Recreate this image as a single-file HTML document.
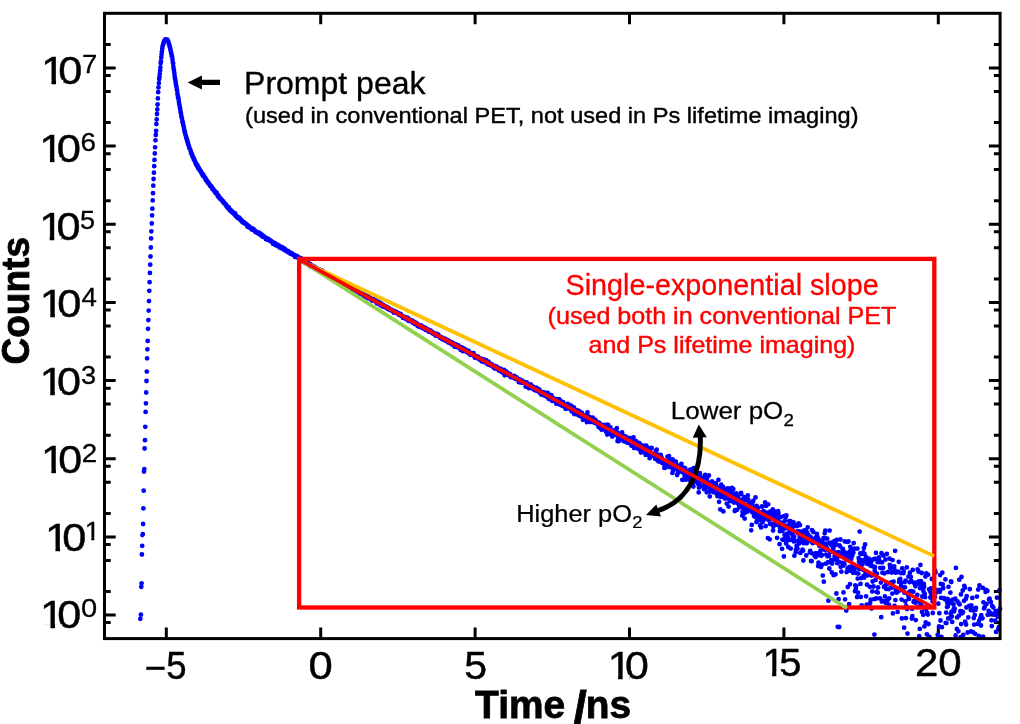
<!DOCTYPE html>
<html><head><meta charset="utf-8"><title>Ps lifetime spectrum</title>
<style>
html,body{margin:0;padding:0;background:#fff;}
svg{display:block;font-family:"Liberation Sans",sans-serif;}
</style></head><body>
<svg width="1020" height="724" viewBox="0 0 1020 724">
<rect width="1020" height="724" fill="#fff"/>
<defs><clipPath id="c"><rect x="103.0" y="11.8" width="899.6" height="628.3"/></clipPath><clipPath id="k0"><rect x="-3" y="-46.32" width="154.4" height="42.21"/><rect x="9.38" y="-4.31" width="4.06" height="5.61"/><rect x="19.90" y="-4.31" width="115.8" height="7.11"/></clipPath><clipPath id="k2"><rect x="-3" y="-46.32" width="154.4" height="42.21"/><rect x="9.38" y="-4.31" width="4.06" height="5.61"/><rect x="19.90" y="-4.31" width="115.8" height="7.11"/></clipPath><clipPath id="k3"><rect x="-3" y="-30.24" width="100.8" height="27.21"/><rect x="6.09" y="-3.23" width="2.73" height="4.53"/></clipPath><clipPath id="k4"><rect x="-3" y="-46.32" width="154.4" height="42.21"/><rect x="9.38" y="-4.31" width="4.06" height="5.61"/><rect x="19.90" y="-4.31" width="115.8" height="7.11"/></clipPath><clipPath id="k6"><rect x="-3" y="-46.32" width="154.4" height="42.21"/><rect x="9.38" y="-4.31" width="4.06" height="5.61"/><rect x="19.90" y="-4.31" width="115.8" height="7.11"/></clipPath><clipPath id="k8"><rect x="-3" y="-46.32" width="154.4" height="42.21"/><rect x="9.38" y="-4.31" width="4.06" height="5.61"/><rect x="19.90" y="-4.31" width="115.8" height="7.11"/></clipPath><clipPath id="k10"><rect x="-3" y="-46.32" width="154.4" height="42.21"/><rect x="9.38" y="-4.31" width="4.06" height="5.61"/><rect x="19.90" y="-4.31" width="115.8" height="7.11"/></clipPath><clipPath id="k12"><rect x="-3" y="-46.32" width="154.4" height="42.21"/><rect x="9.38" y="-4.31" width="4.06" height="5.61"/><rect x="19.90" y="-4.31" width="115.8" height="7.11"/></clipPath><clipPath id="k14"><rect x="-3" y="-46.32" width="154.4" height="42.21"/><rect x="9.38" y="-4.31" width="4.06" height="5.61"/><rect x="19.90" y="-4.31" width="115.8" height="7.11"/></clipPath><clipPath id="k19"><rect x="-3" y="-46.32" width="154.4" height="42.21"/><rect x="9.38" y="-4.31" width="4.06" height="5.61"/><rect x="19.90" y="-4.31" width="115.8" height="7.11"/></clipPath><clipPath id="k20"><rect x="-3" y="-46.32" width="154.4" height="42.21"/><rect x="9.38" y="-4.31" width="4.06" height="5.61"/><rect x="19.95" y="-4.31" width="115.8" height="7.11"/></clipPath></defs>
<path d="M104.5 615.1h11.2M1000.1 615.1h-11.2M104.5 536.9h11.2M1000.1 536.9h-11.2M104.5 458.7h11.2M1000.1 458.7h-11.2M104.5 380.6h11.2M1000.1 380.6h-11.2M104.5 302.4h11.2M1000.1 302.4h-11.2M104.5 224.3h11.2M1000.1 224.3h-11.2M104.5 146.1h11.2M1000.1 146.1h-11.2M104.5 67.9h11.2M1000.1 67.9h-11.2M104.5 622.6h6.2M1000.1 622.6h-6.2M104.5 591.5h6.2M1000.1 591.5h-6.2M104.5 560.4h6.2M1000.1 560.4h-6.2M104.5 544.5h6.2M1000.1 544.5h-6.2M104.5 513.4h6.2M1000.1 513.4h-6.2M104.5 482.3h6.2M1000.1 482.3h-6.2M104.5 466.3h6.2M1000.1 466.3h-6.2M104.5 435.2h6.2M1000.1 435.2h-6.2M104.5 404.1h6.2M1000.1 404.1h-6.2M104.5 388.2h6.2M1000.1 388.2h-6.2M104.5 357.1h6.2M1000.1 357.1h-6.2M104.5 325.9h6.2M1000.1 325.9h-6.2M104.5 310.0h6.2M1000.1 310.0h-6.2M104.5 278.9h6.2M1000.1 278.9h-6.2M104.5 247.8h6.2M1000.1 247.8h-6.2M104.5 231.8h6.2M1000.1 231.8h-6.2M104.5 200.7h6.2M1000.1 200.7h-6.2M104.5 169.6h6.2M1000.1 169.6h-6.2M104.5 153.7h6.2M1000.1 153.7h-6.2M104.5 122.6h6.2M1000.1 122.6h-6.2M104.5 91.5h6.2M1000.1 91.5h-6.2M104.5 75.5h6.2M1000.1 75.5h-6.2M104.5 44.4h6.2M1000.1 44.4h-6.2M166.3 13.3v11M166.3 638.6v-11M320.7 13.3v11M320.7 638.6v-11M475.1 13.3v11M475.1 638.6v-11M629.5 13.3v11M629.5 638.6v-11M783.9 13.3v11M783.9 638.6v-11M938.3 13.3v11M938.3 638.6v-11" stroke="#000" stroke-width="3" fill="none"/>
<path d="M140.3 618.8h0M140.9 614.7h0M141.3 586.8h0M141.6 583.3h0M141.9 554.5h0M142.2 545.8h0M142.5 535.1h0M142.8 534.2h0M143.1 524.0h0M143.4 508.4h0M143.7 490.7h0M144.0 471.5h0M144.3 469.1h0M144.6 448.5h0M145.0 440.2h0M145.3 426.8h0M145.6 411.9h0M145.9 403.3h0M146.2 392.5h0M146.5 381.0h0M146.8 371.6h0M147.1 358.3h0M147.4 349.3h0M147.7 340.9h0M148.0 328.8h0M148.4 320.1h0M148.7 310.6h0M149.0 301.1h0M149.3 290.8h0M149.6 282.2h0M149.9 272.9h0M150.2 264.7h0M150.5 256.5h0M150.8 247.5h0M151.1 238.4h0M151.4 231.3h0M151.8 223.5h0M152.1 215.4h0M152.4 208.7h0M152.7 200.4h0M153.0 193.2h0M153.3 185.7h0M153.6 179.0h0M153.9 172.7h0M154.2 166.2h0M154.5 159.9h0M154.8 153.4h0M155.1 147.3h0M155.5 140.3h0M155.8 135.0h0M156.1 130.8h0M156.4 124.1h0M156.7 119.4h0M157.0 114.0h0M157.3 109.4h0M157.6 104.5h0M157.9 98.4h0M158.2 92.2h0M158.5 87.4h0M158.9 83.1h0M159.2 79.0h0M159.5 76.9h0M159.8 74.1h0M160.1 70.8h0M160.4 67.5h0M160.7 63.1h0M161.0 61.2h0M161.3 57.4h0M161.6 54.2h0M161.9 51.4h0M162.3 48.5h0M162.6 46.2h0M162.9 45.4h0M163.2 44.2h0M163.5 43.1h0M163.8 42.4h0M164.1 41.5h0M164.4 40.8h0M164.7 40.4h0M165.0 40.5h0M165.3 39.4h0M165.6 39.5h0M166.0 40.0h0M166.3 39.6h0M166.6 39.9h0M166.9 39.8h0M167.2 39.6h0M167.5 40.3h0M167.8 40.9h0M168.1 41.2h0M168.4 42.0h0M168.7 43.1h0M169.0 44.4h0M169.4 45.1h0M169.7 46.9h0M170.0 47.5h0M170.3 49.1h0M170.6 50.3h0M170.9 51.8h0M171.2 52.9h0M171.5 54.4h0M171.8 56.2h0M172.1 56.7h0M172.4 59.2h0M172.8 62.3h0M173.1 63.4h0M173.4 66.8h0M173.7 69.1h0M174.0 70.6h0M174.3 73.0h0M174.6 75.7h0M174.9 77.7h0M175.2 79.3h0M175.5 81.2h0M175.8 83.2h0M176.1 85.6h0M176.5 86.8h0M176.8 89.3h0M177.1 90.6h0M177.4 93.4h0M177.7 95.0h0M178.0 97.3h0M178.3 97.6h0M178.6 99.5h0M178.9 102.0h0M179.2 103.9h0M179.5 105.3h0M179.9 107.5h0M180.2 109.2h0M180.5 111.3h0M180.8 112.8h0M181.1 114.6h0M181.4 116.5h0M181.7 117.5h0M182.0 118.5h0M182.3 121.3h0M182.6 122.5h0M182.9 122.5h0M183.3 125.1h0M183.6 126.0h0M183.9 127.8h0M184.2 129.3h0M184.5 131.2h0M184.8 131.6h0M185.1 133.7h0M185.4 134.6h0M185.7 135.4h0M186.0 136.4h0M186.3 137.7h0M186.6 139.0h0M187.0 139.6h0M187.3 141.7h0M187.6 142.0h0M187.9 142.5h0M188.2 144.4h0M188.5 144.9h0M188.8 146.0h0M189.1 146.8h0M189.4 148.2h0M189.7 149.0h0M190.0 149.4h0M190.4 150.5h0M190.7 150.8h0M191.0 153.0h0M191.3 152.8h0M191.6 153.9h0M191.9 154.0h0M192.2 154.8h0M192.5 156.7h0M192.8 157.0h0M193.1 157.3h0M193.4 157.6h0M193.8 159.6h0M194.1 159.1h0M194.4 160.1h0M194.7 160.8h0M195.0 161.7h0M195.3 162.2h0M195.6 162.8h0M195.9 164.2h0M196.2 164.0h0M196.5 164.8h0M196.8 164.6h0M197.1 166.0h0M197.5 165.5h0M197.8 166.5h0M198.1 168.3h0M198.4 167.5h0M198.7 168.4h0M199.0 168.4h0M199.3 168.9h0M199.6 170.3h0M199.9 170.1h0M200.2 170.8h0M200.5 171.2h0M200.9 171.3h0M201.2 172.2h0M201.5 173.3h0M201.8 173.1h0M202.1 174.0h0M202.4 174.8h0M202.7 174.2h0M203.0 175.7h0M203.3 174.9h0M203.6 176.4h0M203.9 176.5h0M204.3 176.7h0M204.6 177.4h0M204.9 177.7h0M205.2 177.8h0M205.5 179.5h0M205.8 180.0h0M206.1 179.4h0M206.4 180.2h0M206.7 180.6h0M207.0 181.2h0M207.3 181.2h0M207.6 182.5h0M208.0 182.7h0M208.3 182.6h0M208.6 183.2h0M208.9 183.4h0M209.2 184.2h0M209.5 185.0h0M209.8 185.4h0M210.1 185.1h0M210.4 186.0h0M210.7 186.0h0M211.0 186.1h0M211.4 186.7h0M211.7 187.8h0M212.0 187.3h0M212.3 188.2h0M212.6 189.2h0M212.9 189.0h0M213.2 189.4h0M213.5 189.7h0M213.8 189.8h0M214.1 190.7h0M214.4 191.3h0M214.8 191.7h0M215.1 191.5h0M215.4 192.1h0M215.7 193.3h0M216.0 192.8h0M216.3 193.6h0M216.6 192.7h0M216.9 193.9h0M217.2 194.3h0M217.5 194.6h0M217.8 196.3h0M218.1 195.8h0M218.5 195.6h0M218.8 196.8h0M219.1 197.1h0M219.4 197.6h0M219.7 198.5h0M220.0 198.1h0M220.3 198.7h0M220.6 198.7h0M220.9 198.9h0M221.2 199.7h0M221.5 200.0h0M221.9 200.1h0M222.2 200.6h0M222.5 201.2h0M222.8 201.7h0M223.1 201.8h0M223.4 201.5h0M223.7 202.8h0M224.0 202.9h0M224.3 203.1h0M224.6 203.6h0M224.9 203.7h0M225.3 204.6h0M225.6 204.7h0M225.9 204.5h0M226.2 205.7h0M226.5 206.2h0M226.8 206.3h0M227.1 206.9h0M227.4 206.4h0M227.7 207.9h0M228.0 207.8h0M228.3 208.6h0M228.6 207.3h0M229.0 208.0h0M229.3 208.9h0M229.6 209.1h0M229.9 210.4h0M230.2 209.8h0M230.5 209.8h0M230.8 210.9h0M231.1 210.9h0M231.4 210.8h0M231.7 211.9h0M232.0 212.3h0M232.4 212.0h0M232.7 212.0h0M233.0 213.1h0M233.3 213.2h0M233.6 213.3h0M233.9 213.3h0M234.2 214.0h0M234.5 214.3h0M234.8 214.6h0M235.1 213.5h0M235.4 215.4h0M235.8 216.1h0M236.1 215.7h0M236.4 216.3h0M236.7 216.3h0M237.0 217.3h0M237.3 216.8h0M237.6 217.7h0M237.9 218.0h0M238.2 217.7h0M238.5 218.3h0M238.8 217.5h0M239.1 218.8h0M239.5 218.2h0M239.8 219.2h0M240.1 219.1h0M240.4 219.5h0M240.7 219.4h0M241.0 220.4h0M241.3 220.9h0M241.6 220.3h0M241.9 220.9h0M242.2 220.9h0M242.5 222.2h0M242.9 222.5h0M243.2 222.2h0M243.5 222.2h0M243.8 222.8h0M244.1 222.5h0M244.4 222.6h0M244.7 223.0h0M245.0 223.7h0M245.3 223.6h0M245.6 223.7h0M245.9 223.9h0M246.3 224.5h0M246.6 224.7h0M246.9 225.4h0M247.2 225.0h0M247.5 226.7h0M247.8 225.6h0M248.1 226.8h0M248.4 226.1h0M248.7 226.5h0M249.0 226.4h0M249.3 227.5h0M249.6 227.4h0M250.0 227.8h0M250.3 227.8h0M250.6 227.6h0M250.9 228.4h0M251.2 228.2h0M251.5 228.4h0M251.8 229.5h0M252.1 229.4h0M252.4 228.9h0M252.7 229.1h0M253.0 229.4h0M253.4 228.8h0M253.7 229.3h0M254.0 230.1h0M254.3 230.4h0M254.6 230.4h0M254.9 231.0h0M255.2 231.7h0M255.5 231.4h0M255.8 232.2h0M256.1 231.7h0M256.4 232.0h0M256.8 232.1h0M257.1 232.3h0M257.4 232.3h0M257.7 233.0h0M258.0 232.4h0M258.3 233.6h0M258.6 233.4h0M258.9 233.1h0M259.2 233.6h0M259.5 233.0h0M259.8 234.1h0M260.1 234.6h0M260.5 233.8h0M260.8 234.6h0M261.1 235.4h0M261.4 234.4h0M261.7 234.8h0M262.0 235.9h0M262.3 236.6h0M262.6 235.4h0M262.9 236.0h0M263.2 236.8h0M263.5 235.9h0M263.9 236.8h0M264.2 237.1h0M264.5 237.2h0M264.8 237.5h0M265.1 237.8h0M265.4 238.0h0M265.7 238.2h0M266.0 239.2h0M266.3 237.9h0M266.6 238.8h0M266.9 238.6h0M267.3 238.8h0M267.6 238.9h0M267.9 239.9h0M268.2 238.9h0M268.5 239.6h0M268.8 239.5h0M269.1 240.3h0M269.4 240.2h0M269.7 239.8h0M270.0 240.8h0M270.3 240.9h0M270.6 241.2h0M271.0 241.6h0M271.3 241.2h0M271.6 241.5h0M271.9 241.8h0M272.2 242.1h0M272.5 242.0h0M272.8 242.2h0M273.1 243.9h0M273.4 242.6h0M273.7 243.3h0M274.0 242.9h0M274.4 243.6h0M274.7 243.7h0M275.0 243.8h0M275.3 243.4h0M275.6 245.1h0M275.9 244.4h0M276.2 245.4h0M276.5 244.9h0M276.8 245.2h0M277.1 245.4h0M277.4 245.4h0M277.8 245.0h0M278.1 246.1h0M278.4 245.9h0M278.7 245.5h0M279.0 245.8h0M279.3 247.3h0M279.6 246.2h0M279.9 246.8h0M280.2 247.7h0M280.5 247.8h0M280.8 248.0h0M281.1 247.2h0M281.5 248.0h0M281.8 248.1h0M282.1 247.2h0M282.4 248.4h0M282.7 248.4h0M283.0 248.3h0M283.3 248.8h0M283.6 248.2h0M283.9 248.7h0M284.2 250.1h0M284.5 249.0h0M284.9 250.2h0M285.2 249.5h0M285.5 250.3h0M285.8 250.5h0M286.1 250.2h0M286.4 250.7h0M286.7 250.6h0M287.0 251.6h0M287.3 251.6h0M287.6 251.5h0M287.9 250.9h0M288.3 251.5h0M288.6 252.4h0M288.9 252.0h0M289.2 252.6h0M289.5 252.4h0M289.8 252.9h0M290.1 253.3h0M290.4 253.7h0M290.7 253.8h0M291.0 253.1h0M291.3 253.2h0M291.6 253.2h0M292.0 254.2h0M292.3 254.0h0M292.6 254.2h0M292.9 254.8h0M293.2 254.4h0M293.5 254.9h0M293.8 254.7h0M294.1 255.0h0M294.4 255.1h0M294.7 255.8h0M295.0 256.9h0M295.4 256.8h0M295.7 255.8h0M296.0 256.7h0M296.3 256.6h0M296.6 256.1h0M296.9 256.0h0M297.2 256.8h0M297.5 257.4h0M297.8 256.9h0M298.1 257.6h0M298.4 257.8h0M298.8 257.4h0M299.1 257.6h0M299.4 258.3h0M299.7 259.0h0M300.0 258.7h0M300.3 258.7h0M300.6 259.1h0M300.9 259.4h0M301.2 258.5h0M301.5 260.4h0M301.8 259.8h0M302.1 259.7h0M302.5 261.6h0M302.8 260.0h0M303.1 260.9h0M303.4 260.5h0M303.7 261.8h0M304.0 261.1h0M304.3 261.1h0M304.6 261.0h0M304.9 261.6h0M305.2 263.0h0M305.5 261.7h0M305.9 263.0h0M306.2 262.5h0M306.5 262.3h0M306.8 261.8h0M307.1 263.4h0M307.4 263.6h0M307.7 263.6h0M308.0 262.7h0M308.3 263.7h0M308.6 264.3h0M308.9 264.3h0M309.3 264.6h0M309.6 265.8h0M309.9 263.9h0M310.2 266.2h0M310.5 265.3h0M310.8 265.3h0M311.1 265.4h0M311.4 265.5h0M311.7 265.5h0M312.0 265.8h0M312.3 266.9h0M312.6 266.7h0M313.0 266.7h0M313.3 266.8h0M313.6 266.4h0M313.9 267.0h0M314.2 267.3h0M314.5 267.8h0M314.8 268.4h0M315.1 267.1h0M315.4 267.4h0M315.7 268.8h0M316.0 267.8h0M316.4 269.6h0M316.7 268.8h0M317.0 269.9h0M317.3 269.0h0M317.6 269.6h0M317.9 269.2h0M318.2 269.3h0M318.5 269.9h0M318.8 269.2h0M319.1 270.2h0M319.4 270.8h0M319.8 270.3h0M320.1 270.7h0M320.4 270.9h0M320.7 271.2h0M321.0 271.5h0M321.3 271.5h0M321.6 271.5h0M321.9 270.5h0M322.2 272.2h0M322.5 271.9h0M322.8 272.4h0M323.1 271.7h0M323.5 272.3h0M323.8 273.1h0M324.1 273.3h0M324.4 273.7h0M324.7 273.7h0M325.0 273.2h0M325.3 274.2h0M325.6 274.3h0M325.9 274.0h0M326.2 274.2h0M326.5 274.8h0M326.9 274.4h0M327.2 274.5h0M327.5 274.8h0M327.8 275.8h0M328.1 274.6h0M328.4 275.0h0M328.7 276.5h0M329.0 275.1h0M329.3 276.4h0M329.6 275.9h0M329.9 276.5h0M330.3 276.9h0M330.6 276.9h0M330.9 276.8h0M331.2 277.3h0M331.5 276.9h0M331.8 277.0h0M332.1 278.4h0M332.4 277.6h0M332.7 278.1h0M333.0 276.8h0M333.3 278.1h0M333.7 278.7h0M334.0 278.1h0M334.3 279.9h0M334.6 278.4h0M334.9 279.2h0M335.2 279.7h0M335.5 279.1h0M335.8 279.9h0M336.1 280.0h0M336.4 281.2h0M336.7 280.9h0M337.0 280.2h0M337.4 280.6h0M337.7 280.4h0M338.0 280.6h0M338.3 281.1h0M338.6 281.0h0M338.9 281.7h0M339.2 280.7h0M339.5 281.2h0M339.8 281.0h0M340.1 281.9h0M340.4 282.2h0M340.8 282.2h0M341.1 282.5h0M341.4 282.7h0M341.7 281.6h0M342.0 282.5h0M342.3 283.5h0M342.6 283.7h0M342.9 284.3h0M343.2 284.1h0M343.5 282.6h0M343.8 284.3h0M344.2 283.9h0M344.5 283.6h0M344.8 285.0h0M345.1 284.6h0M345.4 285.6h0M345.7 284.7h0M346.0 285.1h0M346.3 286.2h0M346.6 285.7h0M346.9 286.0h0M347.2 285.9h0M347.5 285.6h0M347.9 285.9h0M348.2 286.1h0M348.5 285.8h0M348.8 286.3h0M349.1 287.0h0M349.4 285.9h0M349.7 287.8h0M350.0 287.3h0M350.3 287.0h0M350.6 287.4h0M350.9 287.9h0M351.3 288.0h0M351.6 288.4h0M351.9 288.8h0M352.2 287.6h0M352.5 289.0h0M352.8 288.1h0M353.1 289.5h0M353.4 287.9h0M353.7 288.2h0M354.0 289.9h0M354.3 289.6h0M354.7 290.5h0M355.0 289.1h0M355.3 289.9h0M355.6 289.6h0M355.9 290.9h0M356.2 290.4h0M356.5 291.2h0M356.8 290.9h0M357.1 290.8h0M357.4 291.4h0M357.7 291.7h0M358.0 292.4h0M358.4 292.0h0M358.7 291.3h0M359.0 291.8h0M359.3 293.2h0M359.6 292.9h0M359.9 292.5h0M360.2 294.0h0M360.5 292.7h0M360.8 293.8h0M361.1 293.9h0M361.4 293.7h0M361.8 293.4h0M362.1 293.3h0M362.4 293.7h0M362.7 294.0h0M363.0 294.7h0M363.3 294.7h0M363.6 295.5h0M363.9 294.9h0M364.2 295.9h0M364.5 296.5h0M364.8 294.5h0M365.2 295.7h0M365.5 296.2h0M365.8 296.1h0M366.1 296.3h0M366.4 296.3h0M366.7 296.2h0M367.0 295.7h0M367.3 296.0h0M367.6 298.0h0M367.9 297.7h0M368.2 296.9h0M368.5 297.4h0M368.9 298.2h0M369.2 297.5h0M369.5 298.5h0M369.8 298.7h0M370.1 298.0h0M370.4 298.5h0M370.7 298.6h0M371.0 299.0h0M371.3 299.6h0M371.6 299.3h0M371.9 300.5h0M372.3 300.3h0M372.6 300.2h0M372.9 300.3h0M373.2 298.8h0M373.5 300.7h0M373.8 300.7h0M374.1 299.9h0M374.4 300.3h0M374.7 300.9h0M375.0 301.2h0M375.3 300.5h0M375.7 301.4h0M376.0 301.3h0M376.3 302.1h0M376.6 301.1h0M376.9 303.3h0M377.2 303.4h0M377.5 302.3h0M377.8 301.7h0M378.1 303.5h0M378.4 302.9h0M378.7 302.9h0M379.0 302.4h0M379.4 302.6h0M379.7 303.4h0M380.0 304.7h0M380.3 304.2h0M380.6 303.2h0M380.9 305.4h0M381.2 305.2h0M381.5 304.2h0M381.8 305.5h0M382.1 304.7h0M382.4 305.1h0M382.8 306.5h0M383.1 305.0h0M383.4 306.2h0M383.7 305.6h0M384.0 306.3h0M384.3 306.2h0M384.6 305.9h0M384.9 307.0h0M385.2 306.5h0M385.5 306.5h0M385.8 307.5h0M386.2 306.7h0M386.5 307.3h0M386.8 308.2h0M387.1 307.7h0M387.4 308.3h0M387.7 308.2h0M388.0 309.0h0M388.3 308.8h0M388.6 307.8h0M388.9 309.5h0M389.2 308.9h0M389.5 309.5h0M389.9 309.7h0M390.2 309.3h0M390.5 309.5h0M390.8 309.3h0M391.1 310.1h0M391.4 310.5h0M391.7 309.9h0M392.0 310.7h0M392.3 311.1h0M392.6 310.1h0M392.9 311.6h0M393.3 311.4h0M393.6 311.3h0M393.9 312.7h0M394.2 311.6h0M394.5 312.0h0M394.8 311.8h0M395.1 311.5h0M395.4 311.9h0M395.7 311.6h0M396.0 312.7h0M396.3 312.0h0M396.7 312.5h0M397.0 313.2h0M397.3 313.6h0M397.6 313.6h0M397.9 313.7h0M398.2 313.7h0M398.5 314.3h0M398.8 313.3h0M399.1 314.2h0M399.4 315.1h0M399.7 314.5h0M400.0 315.2h0M400.4 314.9h0M400.7 314.2h0M401.0 314.6h0M401.3 315.6h0M401.6 315.6h0M401.9 316.3h0M402.2 316.1h0M402.5 316.3h0M402.8 317.0h0M403.1 317.9h0M403.4 316.6h0M403.8 317.3h0M404.1 317.4h0M404.4 317.8h0M404.7 316.9h0M405.0 317.1h0M405.3 317.3h0M405.6 318.4h0M405.9 318.9h0M406.2 318.3h0M406.5 319.3h0M406.8 318.0h0M407.2 317.7h0M407.5 318.4h0M407.8 317.9h0M408.1 318.9h0M408.4 318.7h0M408.7 320.9h0M409.0 319.8h0M409.3 319.6h0M409.6 320.4h0M409.9 319.8h0M410.2 320.5h0M410.5 320.8h0M410.9 321.1h0M411.2 320.9h0M411.5 320.5h0M411.8 320.4h0M412.1 322.1h0M412.4 321.1h0M412.7 322.5h0M413.0 321.2h0M413.3 323.0h0M413.6 321.8h0M413.9 322.3h0M414.3 322.6h0M414.6 322.7h0M414.9 323.9h0M415.2 323.0h0M415.5 322.7h0M415.8 324.4h0M416.1 323.2h0M416.4 323.1h0M416.7 323.5h0M417.0 324.3h0M417.3 324.7h0M417.7 325.9h0M418.0 324.8h0M418.3 324.6h0M418.6 326.6h0M418.9 325.7h0M419.2 326.0h0M419.5 326.2h0M419.8 326.6h0M420.1 326.1h0M420.4 325.4h0M420.7 327.2h0M421.0 325.9h0M421.4 325.7h0M421.7 326.8h0M422.0 326.9h0M422.3 327.0h0M422.6 328.0h0M422.9 328.2h0M423.2 327.7h0M423.5 327.1h0M423.8 327.6h0M424.1 327.8h0M424.4 329.0h0M424.8 328.9h0M425.1 328.6h0M425.4 327.9h0M425.7 329.9h0M426.0 329.5h0M426.3 329.8h0M426.6 329.4h0M426.9 329.6h0M427.2 329.8h0M427.5 329.3h0M427.8 329.3h0M428.2 329.8h0M428.5 331.5h0M428.8 330.2h0M429.1 331.0h0M429.4 330.1h0M429.7 330.3h0M430.0 331.5h0M430.3 330.3h0M430.6 331.5h0M430.9 332.3h0M431.2 331.1h0M431.5 332.1h0M431.9 332.0h0M432.2 331.9h0M432.5 332.8h0M432.8 333.5h0M433.1 333.1h0M433.4 333.2h0M433.7 332.9h0M434.0 333.5h0M434.3 333.1h0M434.6 334.1h0M434.9 334.3h0M435.3 335.4h0M435.6 333.9h0M435.9 335.6h0M436.2 334.5h0M436.5 334.9h0M436.8 334.4h0M437.1 333.8h0M437.4 334.6h0M437.7 334.5h0M438.0 336.2h0M438.3 334.8h0M438.7 335.6h0M439.0 336.1h0M439.3 336.3h0M439.6 336.5h0M439.9 337.2h0M440.2 337.9h0M440.5 337.5h0M440.8 337.7h0M441.1 338.3h0M441.4 337.5h0M441.7 337.5h0M442.0 339.1h0M442.4 337.9h0M442.7 338.3h0M443.0 338.7h0M443.3 338.5h0M443.6 338.7h0M443.9 339.1h0M444.2 340.0h0M444.5 339.5h0M444.8 338.7h0M445.1 340.0h0M445.4 339.2h0M445.8 339.6h0M446.1 339.5h0M446.4 340.9h0M446.7 340.3h0M447.0 340.3h0M447.3 341.1h0M447.6 341.8h0M447.9 342.3h0M448.2 340.3h0M448.5 341.9h0M448.8 342.0h0M449.2 342.2h0M449.5 341.7h0M449.8 341.5h0M450.1 342.0h0M450.4 343.3h0M450.7 343.6h0M451.0 342.3h0M451.3 342.4h0M451.6 343.0h0M451.9 342.5h0M452.2 344.6h0M452.5 342.9h0M452.9 342.9h0M453.2 344.2h0M453.5 343.3h0M453.8 344.5h0M454.1 344.6h0M454.4 344.2h0M454.7 346.7h0M455.0 344.8h0M455.3 344.1h0M455.6 345.9h0M455.9 345.9h0M456.3 345.3h0M456.6 346.9h0M456.9 345.9h0M457.2 346.2h0M457.5 345.6h0M457.8 345.1h0M458.1 346.3h0M458.4 347.4h0M458.7 345.9h0M459.0 347.1h0M459.3 347.4h0M459.7 346.8h0M460.0 347.7h0M460.3 347.9h0M460.6 349.8h0M460.9 349.8h0M461.2 347.9h0M461.5 349.8h0M461.8 347.3h0M462.1 349.6h0M462.4 349.8h0M462.7 349.9h0M463.0 351.2h0M463.4 349.1h0M463.7 349.8h0M464.0 348.7h0M464.3 350.4h0M464.6 349.3h0M464.9 350.1h0M465.2 350.9h0M465.5 350.4h0M465.8 349.6h0M466.1 350.9h0M466.4 351.1h0M466.8 351.9h0M467.1 351.3h0M467.4 351.0h0M467.7 351.2h0M468.0 351.8h0M468.3 353.2h0M468.6 350.8h0M468.9 352.0h0M469.2 353.3h0M469.5 353.4h0M469.8 353.5h0M470.2 353.5h0M470.5 354.9h0M470.8 354.5h0M471.1 353.4h0M471.4 354.4h0M471.7 354.5h0M472.0 353.1h0M472.3 354.5h0M472.6 354.6h0M472.9 354.1h0M473.2 354.8h0M473.5 353.2h0M473.9 354.4h0M474.2 355.3h0M474.5 356.9h0M474.8 356.6h0M475.1 357.8h0M475.4 356.0h0M475.7 356.6h0M476.0 357.2h0M476.3 356.7h0M476.6 357.8h0M476.9 357.8h0M477.3 356.3h0M477.6 356.9h0M477.9 357.9h0M478.2 356.9h0M478.5 357.6h0M478.8 358.7h0M479.1 358.6h0M479.4 359.4h0M479.7 358.9h0M480.0 359.2h0M480.3 359.8h0M480.7 360.3h0M481.0 358.6h0M481.3 359.6h0M481.6 361.0h0M481.9 361.4h0M482.2 359.5h0M482.5 360.5h0M482.8 360.4h0M483.1 359.1h0M483.4 360.6h0M483.7 360.6h0M484.0 362.0h0M484.4 361.5h0M484.7 360.3h0M485.0 360.8h0M485.3 361.9h0M485.6 362.1h0M485.9 360.1h0M486.2 362.6h0M486.5 362.4h0M486.8 362.0h0M487.1 363.5h0M487.4 364.2h0M487.8 362.0h0M488.1 363.1h0M488.4 361.7h0M488.7 362.5h0M489.0 364.4h0M489.3 363.6h0M489.6 364.9h0M489.9 364.0h0M490.2 364.4h0M490.5 364.9h0M490.8 364.0h0M491.2 365.7h0M491.5 364.9h0M491.8 364.8h0M492.1 364.6h0M492.4 365.9h0M492.7 365.6h0M493.0 366.6h0M493.3 366.2h0M493.6 367.5h0M493.9 366.9h0M494.2 366.7h0M494.5 366.2h0M494.9 368.5h0M495.2 366.1h0M495.5 366.3h0M495.8 366.5h0M496.1 368.1h0M496.4 368.5h0M496.7 367.8h0M497.0 366.9h0M497.3 367.4h0M497.6 368.8h0M497.9 368.2h0M498.3 368.9h0M498.6 369.2h0M498.9 370.5h0M499.2 369.8h0M499.5 369.7h0M499.8 370.0h0M500.1 369.2h0M500.4 370.2h0M500.7 368.7h0M501.0 371.2h0M501.3 369.8h0M501.7 372.1h0M502.0 370.8h0M502.3 370.5h0M502.6 372.5h0M502.9 370.9h0M503.2 371.9h0M503.5 371.3h0M503.8 371.6h0M504.1 370.0h0M504.4 372.3h0M504.7 375.3h0M505.0 373.1h0M505.4 372.4h0M505.7 373.0h0M506.0 371.3h0M506.3 373.0h0M506.6 372.6h0M506.9 372.4h0M507.2 373.5h0M507.5 373.7h0M507.8 373.4h0M508.1 373.6h0M508.4 374.6h0M508.8 375.3h0M509.1 375.1h0M509.4 374.6h0M509.7 373.8h0M510.0 374.8h0M510.3 376.6h0M510.6 375.7h0M510.9 377.2h0M511.2 376.3h0M511.5 376.6h0M511.8 377.0h0M512.2 375.9h0M512.5 376.6h0M512.8 376.8h0M513.1 376.8h0M513.4 377.7h0M513.7 377.7h0M514.0 376.0h0M514.3 377.2h0M514.6 376.4h0M514.9 378.6h0M515.2 377.7h0M515.5 377.8h0M515.9 379.0h0M516.2 377.1h0M516.5 379.1h0M516.8 378.8h0M517.1 378.1h0M517.4 379.2h0M517.7 379.3h0M518.0 379.5h0M518.3 379.6h0M518.6 379.9h0M518.9 382.2h0M519.3 379.5h0M519.6 379.7h0M519.9 382.4h0M520.2 380.6h0M520.5 379.8h0M520.8 381.4h0M521.1 382.1h0M521.4 382.6h0M521.7 381.1h0M522.0 380.6h0M522.3 382.6h0M522.7 381.9h0M523.0 381.4h0M523.3 382.5h0M523.6 381.8h0M523.9 382.0h0M524.2 382.9h0M524.5 383.2h0M524.8 382.6h0M525.1 382.7h0M525.4 382.5h0M525.7 386.7h0M526.0 383.4h0M526.4 384.1h0M526.7 382.5h0M527.0 386.5h0M527.3 386.0h0M527.6 385.0h0M527.9 384.9h0M528.2 384.7h0M528.5 385.7h0M528.8 388.2h0M529.1 387.4h0M529.4 385.4h0M529.8 385.2h0M530.1 387.2h0M530.4 386.2h0M530.7 384.3h0M531.0 387.6h0M531.3 388.1h0M531.6 387.4h0M531.9 387.7h0M532.2 388.2h0M532.5 386.5h0M532.8 387.1h0M533.2 387.0h0M533.5 387.5h0M533.8 387.8h0M534.1 387.7h0M534.4 390.0h0M534.7 387.8h0M535.0 387.6h0M535.3 389.6h0M535.6 390.0h0M535.9 390.4h0M536.2 387.9h0M536.5 388.0h0M536.9 390.0h0M537.2 390.9h0M537.5 389.5h0M537.8 388.9h0M538.1 389.7h0M538.4 390.1h0M538.7 390.6h0M539.0 389.3h0M539.3 390.0h0M539.6 392.4h0M539.9 390.7h0M540.3 391.4h0M540.6 393.2h0M540.9 392.0h0M541.2 394.5h0M541.5 394.5h0M541.8 392.3h0M542.1 394.2h0M542.4 393.3h0M542.7 393.5h0M543.0 392.7h0M543.3 392.9h0M543.7 393.3h0M544.0 392.4h0M544.3 393.9h0M544.6 395.7h0M544.9 394.2h0M545.2 393.5h0M545.5 395.0h0M545.8 395.1h0M546.1 395.9h0M546.4 395.2h0M546.7 393.2h0M547.0 397.1h0M547.4 396.2h0M547.7 393.0h0M548.0 395.5h0M548.3 394.2h0M548.6 394.5h0M548.9 399.1h0M549.2 395.2h0M549.5 396.8h0M549.8 398.7h0M550.1 396.7h0M550.4 397.5h0M550.8 397.3h0M551.1 399.6h0M551.4 395.1h0M551.7 398.7h0M552.0 397.4h0M552.3 400.9h0M552.6 399.9h0M552.9 398.0h0M553.2 399.4h0M553.5 398.5h0M553.8 400.2h0M554.2 400.7h0M554.5 400.8h0M554.8 399.7h0M555.1 401.3h0M555.4 399.6h0M555.7 399.5h0M556.0 401.3h0M556.3 403.7h0M556.6 399.2h0M556.9 402.8h0M557.2 403.5h0M557.6 400.4h0M557.9 402.6h0M558.2 403.3h0M558.5 402.2h0M558.8 401.0h0M559.1 399.5h0M559.4 399.3h0M559.7 401.2h0M560.0 404.7h0M560.3 401.4h0M560.6 401.1h0M560.9 403.2h0M561.3 401.8h0M561.6 401.7h0M561.9 403.9h0M562.2 405.8h0M562.5 403.2h0M562.8 405.7h0M563.1 402.2h0M563.4 406.0h0M563.7 404.1h0M564.0 405.1h0M564.3 406.6h0M564.7 405.8h0M565.0 404.8h0M565.3 404.9h0M565.6 408.8h0M565.9 407.1h0M566.2 406.0h0M566.5 407.9h0M566.8 406.0h0M567.1 405.8h0M567.4 408.3h0M567.7 404.0h0M568.1 406.1h0M568.4 404.8h0M568.7 404.7h0M569.0 407.9h0M569.3 407.0h0M569.6 408.8h0M569.9 408.8h0M570.2 407.5h0M570.5 406.4h0M570.8 407.3h0M571.1 405.7h0M571.4 408.6h0M571.8 411.4h0M572.1 407.5h0M572.4 411.0h0M572.7 408.7h0M573.0 411.1h0M573.3 408.2h0M573.6 411.7h0M573.9 407.5h0M574.2 414.1h0M574.5 412.3h0M574.8 409.9h0M575.2 412.2h0M575.5 412.7h0M575.8 413.6h0M576.1 409.9h0M576.4 413.1h0M576.7 414.3h0M577.0 413.7h0M577.3 412.6h0M577.6 414.1h0M577.9 412.6h0M578.2 410.7h0M578.6 411.4h0M578.9 412.2h0M579.2 415.7h0M579.5 411.4h0M579.8 412.2h0M580.1 414.1h0M580.4 412.6h0M580.7 414.3h0M581.0 413.5h0M581.3 416.6h0M581.6 414.2h0M581.9 412.9h0M582.3 415.3h0M582.6 416.6h0M582.9 419.8h0M583.2 419.1h0M583.5 416.6h0M583.8 416.3h0M584.1 415.8h0M584.4 416.0h0M584.7 417.7h0M585.0 416.0h0M585.3 416.8h0M585.7 416.7h0M586.0 417.5h0M586.3 415.2h0M586.6 419.1h0M586.9 422.2h0M587.2 415.8h0M587.5 412.5h0M587.8 416.3h0M588.1 416.5h0M588.4 417.3h0M588.7 416.6h0M589.1 419.6h0M589.4 420.7h0M589.7 418.1h0M590.0 417.4h0M590.3 422.1h0M590.6 420.6h0M590.9 419.3h0M591.2 417.9h0M591.5 418.3h0M591.8 418.5h0M592.1 420.8h0M592.4 420.0h0M592.8 417.7h0M593.1 420.4h0M593.4 420.4h0M593.7 419.1h0M594.0 422.6h0M594.3 419.3h0M594.6 422.7h0M594.9 422.5h0M595.2 422.1h0M595.5 420.2h0M595.8 423.2h0M596.2 421.3h0M596.5 422.0h0M596.8 422.4h0M597.1 422.7h0M597.4 424.2h0M597.7 422.8h0M598.0 423.3h0M598.3 422.5h0M598.6 427.0h0M598.9 423.6h0M599.2 422.9h0M599.6 427.6h0M599.9 423.5h0M600.2 424.0h0M600.5 427.7h0M600.8 428.5h0M601.1 425.3h0M601.4 425.2h0M601.7 429.8h0M602.0 426.9h0M602.3 427.0h0M602.6 426.0h0M602.9 428.2h0M603.3 427.9h0M603.6 426.4h0M603.9 425.5h0M604.2 424.8h0M604.5 429.2h0M604.8 427.9h0M605.1 426.3h0M605.4 425.9h0M605.7 425.5h0M606.0 431.7h0M606.3 431.0h0M606.7 428.4h0M607.0 430.1h0M607.3 434.6h0M607.6 424.6h0M607.9 429.4h0M608.2 425.2h0M608.5 429.1h0M608.8 428.5h0M609.1 428.2h0M609.4 429.5h0M609.7 431.4h0M610.1 430.0h0M610.4 427.3h0M610.7 434.1h0M611.0 432.6h0M611.3 431.1h0M611.6 430.5h0M611.9 432.1h0M612.2 436.5h0M612.5 430.3h0M612.8 435.8h0M613.1 433.7h0M613.4 431.1h0M613.8 431.6h0M614.1 430.3h0M614.4 432.4h0M614.7 430.4h0M615.0 434.9h0M615.3 432.2h0M615.6 433.7h0M615.9 434.3h0M616.2 431.6h0M616.5 429.6h0M616.8 428.2h0M617.2 432.9h0M617.5 441.1h0M617.8 435.0h0M618.1 438.7h0M618.4 435.8h0M618.7 441.2h0M619.0 436.3h0M619.3 434.7h0M619.6 433.8h0M619.9 434.9h0M620.2 433.5h0M620.6 438.6h0M620.9 433.7h0M621.2 436.0h0M621.5 436.5h0M621.8 437.2h0M622.1 432.5h0M622.4 437.9h0M622.7 439.3h0M623.0 435.7h0M623.3 437.4h0M623.6 441.0h0M623.9 438.2h0M624.3 439.9h0M624.6 436.2h0M624.9 441.4h0M625.2 438.6h0M625.5 439.5h0M625.8 436.9h0M626.1 439.0h0M626.4 438.5h0M626.7 439.6h0M627.0 439.8h0M627.3 442.7h0M627.7 439.7h0M628.0 440.5h0M628.3 437.8h0M628.6 442.0h0M628.9 440.0h0M629.2 440.2h0M629.5 443.1h0M629.8 441.9h0M630.1 441.7h0M630.4 440.6h0M630.7 438.2h0M631.1 440.5h0M631.4 445.7h0M631.7 444.9h0M632.0 443.3h0M632.3 441.2h0M632.6 442.3h0M632.9 441.8h0M633.2 445.2h0M633.5 437.3h0M633.8 443.8h0M634.1 448.0h0M634.4 443.8h0M634.8 440.8h0M635.1 447.0h0M635.4 443.0h0M635.7 443.3h0M636.0 441.1h0M636.3 444.5h0M636.6 443.0h0M636.9 445.2h0M637.2 444.0h0M637.5 447.7h0M637.8 448.6h0M638.2 444.3h0M638.5 446.3h0M638.8 445.4h0M639.1 442.9h0M639.4 449.5h0M639.7 447.2h0M640.0 444.1h0M640.3 450.1h0M640.6 449.6h0M640.9 452.5h0M641.2 445.9h0M641.6 446.2h0M641.9 451.8h0M642.2 445.6h0M642.5 450.1h0M642.8 450.0h0M643.1 447.2h0M643.4 446.4h0M643.7 451.0h0M644.0 448.4h0M644.3 449.4h0M644.6 445.6h0M644.9 452.3h0M645.3 446.3h0M645.6 454.9h0M645.9 448.6h0M646.2 445.7h0M646.5 448.4h0M646.8 447.2h0M647.1 447.8h0M647.4 454.7h0M647.7 452.5h0M648.0 448.8h0M648.3 450.3h0M648.7 451.8h0M649.0 448.2h0M649.3 450.6h0M649.6 458.2h0M649.9 455.9h0M650.2 452.0h0M650.5 454.6h0M650.8 455.4h0M651.1 453.5h0M651.4 454.8h0M651.7 448.0h0M652.1 453.7h0M652.4 454.0h0M652.7 455.5h0M653.0 455.5h0M653.3 454.4h0M653.6 455.5h0M653.9 454.8h0M654.2 454.6h0M654.5 457.1h0M654.8 454.3h0M655.1 458.8h0M655.4 453.2h0M655.8 451.0h0M656.1 456.7h0M656.4 455.6h0M656.7 449.7h0M657.0 457.1h0M657.3 459.9h0M657.6 456.7h0M657.9 459.7h0M658.2 455.2h0M658.5 461.4h0M658.8 457.3h0M659.2 454.8h0M659.5 456.7h0M659.8 461.5h0M660.1 457.3h0M660.4 457.6h0M660.7 455.0h0M661.0 460.1h0M661.3 460.1h0M661.6 457.7h0M661.9 459.9h0M662.2 463.0h0M662.6 462.1h0M662.9 459.8h0M663.2 460.4h0M663.5 463.4h0M663.8 461.0h0M664.1 460.6h0M664.4 467.9h0M664.7 466.5h0M665.0 467.5h0M665.3 467.7h0M665.6 465.8h0M665.9 462.4h0M666.3 463.0h0M666.6 462.8h0M666.9 463.1h0M667.2 463.5h0M667.5 456.7h0M667.8 461.5h0M668.1 465.9h0M668.4 466.3h0M668.7 463.1h0M669.0 456.1h0M669.3 462.4h0M669.7 467.2h0M670.0 463.0h0M670.3 466.4h0M670.6 461.5h0M670.9 464.3h0M671.2 459.6h0M671.5 460.9h0M671.8 465.8h0M672.1 460.8h0M672.4 472.9h0M672.7 459.4h0M673.1 470.4h0M673.4 465.9h0M673.7 467.3h0M674.0 467.7h0M674.3 468.9h0M674.6 467.3h0M674.9 465.1h0M675.2 464.9h0M675.5 463.3h0M675.8 461.7h0M676.1 467.0h0M676.4 464.5h0M676.8 467.1h0M677.1 475.0h0M677.4 465.5h0M677.7 473.4h0M678.0 470.3h0M678.3 466.5h0M678.6 469.7h0M678.9 471.3h0M679.2 467.3h0M679.5 466.0h0M679.8 471.7h0M680.2 471.1h0M680.5 467.9h0M680.8 469.7h0M681.1 471.4h0M681.4 464.0h0M681.7 470.5h0M682.0 470.6h0M682.3 479.8h0M682.6 468.2h0M682.9 471.9h0M683.2 467.6h0M683.6 473.3h0M683.9 471.4h0M684.2 471.6h0M684.5 472.0h0M684.8 476.2h0M685.1 468.1h0M685.4 478.5h0M685.7 479.7h0M686.0 470.6h0M686.3 475.8h0M686.6 472.7h0M686.9 476.6h0M687.3 471.0h0M687.6 476.8h0M687.9 474.7h0M688.2 474.6h0M688.5 477.1h0M688.8 474.4h0M689.1 478.1h0M689.4 473.4h0M689.7 479.9h0M690.0 470.4h0M690.3 469.6h0M690.7 475.8h0M691.0 478.4h0M691.3 474.5h0M691.6 472.9h0M691.9 476.7h0M692.2 473.6h0M692.5 474.3h0M692.8 479.5h0M693.1 481.0h0M693.4 486.5h0M693.7 468.1h0M694.1 482.0h0M694.4 472.2h0M694.7 475.0h0M695.0 480.5h0M695.3 477.2h0M695.6 480.2h0M695.9 476.7h0M696.2 477.0h0M696.5 476.1h0M696.8 479.1h0M697.1 480.9h0M697.4 478.4h0M697.8 478.9h0M698.1 484.1h0M698.4 483.7h0M698.7 492.4h0M699.0 487.5h0M699.3 476.2h0M699.6 479.1h0M699.9 473.2h0M700.2 475.3h0M700.5 486.2h0M700.8 481.5h0M701.2 479.0h0M701.5 477.9h0M701.8 479.0h0M702.1 479.0h0M702.4 478.2h0M702.7 478.3h0M703.0 478.1h0M703.3 478.5h0M703.6 481.8h0M703.9 489.1h0M704.2 480.5h0M704.6 485.3h0M704.9 476.7h0M705.2 475.0h0M705.5 488.0h0M705.8 476.0h0M706.1 477.2h0M706.4 477.5h0M706.7 492.3h0M707.0 481.2h0M707.3 477.6h0M707.6 485.4h0M707.9 485.7h0M708.3 485.0h0M708.6 484.2h0M708.9 475.4h0M709.2 487.9h0M709.5 491.5h0M709.8 496.4h0M710.1 482.7h0M710.4 486.8h0M710.7 484.2h0M711.0 490.4h0M711.3 486.5h0M711.7 490.4h0M712.0 481.5h0M712.3 482.4h0M712.6 484.1h0M712.9 484.6h0M713.2 492.0h0M713.5 485.5h0M713.8 482.9h0M714.1 486.7h0M714.4 483.7h0M714.7 488.3h0M715.1 483.6h0M715.4 485.7h0M715.7 483.5h0M716.0 484.5h0M716.3 492.1h0M716.6 493.7h0M716.9 491.1h0M717.2 488.5h0M717.5 496.2h0M717.8 493.9h0M718.1 490.0h0M718.4 479.9h0M718.8 487.6h0M719.1 501.8h0M719.4 488.1h0M719.7 489.8h0M720.0 492.8h0M720.3 509.4h0M720.6 496.9h0M720.9 490.1h0M721.2 484.7h0M721.5 487.6h0M721.8 494.3h0M722.2 494.2h0M722.5 490.6h0M722.8 490.8h0M723.1 487.0h0M723.4 511.4h0M723.7 494.1h0M724.0 495.1h0M724.3 497.7h0M724.6 496.1h0M724.9 498.5h0M725.2 496.4h0M725.6 490.9h0M725.9 492.9h0M726.2 489.4h0M726.5 498.1h0M726.8 503.6h0M727.1 493.6h0M727.4 496.3h0M727.7 488.3h0M728.0 495.1h0M728.3 492.9h0M728.6 506.6h0M728.9 499.1h0M729.3 488.6h0M729.6 497.7h0M729.9 496.2h0M730.2 496.8h0M730.5 501.2h0M730.8 496.5h0M731.1 491.9h0M731.4 496.6h0M731.7 500.7h0M732.0 487.9h0M732.3 493.3h0M732.7 497.3h0M733.0 499.2h0M733.3 489.1h0M733.6 495.2h0M733.9 502.5h0M734.2 495.5h0M734.5 494.0h0M734.8 511.1h0M735.1 510.2h0M735.4 493.8h0M735.7 499.3h0M736.1 493.4h0M736.4 493.6h0M736.7 500.7h0M737.0 509.8h0M737.3 501.8h0M737.6 503.2h0M737.9 496.6h0M738.2 497.7h0M738.5 503.9h0M738.8 499.8h0M739.1 505.8h0M739.4 502.8h0M739.8 500.3h0M740.1 502.5h0M740.4 505.1h0M740.7 507.1h0M741.0 492.8h0M741.3 494.0h0M741.6 505.1h0M741.9 499.9h0M742.2 515.6h0M742.5 511.8h0M742.8 505.3h0M743.2 511.7h0M743.5 513.7h0M743.8 506.3h0M744.1 508.9h0M744.4 497.2h0M744.7 518.6h0M745.0 512.8h0M745.3 499.7h0M745.6 500.1h0M745.9 498.0h0M746.2 508.8h0M746.6 511.7h0M746.9 498.9h0M747.2 500.4h0M747.5 511.6h0M747.8 495.4h0M748.1 505.0h0M748.4 499.8h0M748.7 508.0h0M749.0 509.9h0M749.3 503.1h0M749.6 507.9h0M749.9 506.8h0M750.3 510.5h0M750.6 508.5h0M750.9 503.8h0M751.2 530.3h0M751.5 503.7h0M751.8 524.9h0M752.1 502.9h0M752.4 512.4h0M752.7 502.1h0M753.0 509.9h0M753.3 500.8h0M753.7 509.9h0M754.0 516.0h0M754.3 515.8h0M754.6 508.2h0M754.9 506.6h0M755.2 516.9h0M755.5 497.4h0M755.8 514.9h0M756.1 511.9h0M756.4 522.1h0M756.7 505.9h0M757.1 511.8h0M757.4 519.9h0M757.7 517.1h0M758.0 507.9h0M758.3 520.6h0M758.6 515.6h0M758.9 513.3h0M759.2 513.0h0M759.5 514.7h0M759.8 515.5h0M760.1 525.4h0M760.4 520.0h0M760.8 514.5h0M761.1 527.4h0M761.4 516.5h0M761.7 512.2h0M762.0 506.5h0M762.3 514.3h0M762.6 522.1h0M762.9 513.2h0M763.2 515.0h0M763.5 511.1h0M763.8 513.5h0M764.2 519.3h0M764.5 512.6h0M764.8 517.4h0M765.1 502.3h0M765.4 518.0h0M765.7 526.2h0M766.0 505.9h0M766.3 512.7h0M766.6 516.6h0M766.9 518.1h0M767.2 517.0h0M767.6 515.4h0M767.9 538.1h0M768.2 504.3h0M768.5 520.1h0M768.8 515.7h0M769.1 513.0h0M769.4 512.5h0M769.7 539.3h0M770.0 523.9h0M770.3 523.9h0M770.6 511.4h0M770.9 513.0h0M771.3 515.5h0M771.6 519.2h0M771.9 516.1h0M772.2 515.9h0M772.5 515.2h0M772.8 509.4h0M773.1 530.6h0M773.4 526.5h0M773.7 524.2h0M774.0 511.2h0M774.3 524.6h0M774.7 515.0h0M775.0 519.2h0M775.3 520.7h0M775.6 513.0h0M775.9 520.7h0M776.2 517.5h0M776.5 515.9h0M776.8 515.5h0M777.1 537.8h0M777.4 524.9h0M777.7 520.0h0M778.1 511.1h0M778.4 512.9h0M778.7 517.0h0M779.0 524.8h0M779.3 521.9h0M779.6 544.2h0M779.9 531.2h0M780.2 528.3h0M780.5 528.3h0M780.8 517.0h0M781.1 523.8h0M781.5 523.0h0M781.8 530.7h0M782.1 548.8h0M782.4 539.6h0M782.7 525.5h0M783.0 526.8h0M783.3 529.7h0M783.6 539.8h0M783.9 556.4h0M784.2 516.2h0M784.5 534.7h0M784.8 520.8h0M785.2 536.2h0M785.5 525.6h0M785.8 517.0h0M786.1 543.4h0M786.4 515.4h0M786.7 527.1h0M787.0 539.0h0M787.3 533.6h0M787.6 528.3h0M787.9 537.7h0M788.2 547.0h0M788.6 533.4h0M788.9 540.0h0M789.2 521.1h0M789.5 524.5h0M789.8 532.2h0M790.1 522.0h0M790.4 521.2h0M790.7 548.6h0M791.0 539.7h0M791.3 525.7h0M791.6 529.8h0M792.0 533.8h0M792.3 528.7h0M792.6 535.4h0M792.9 535.0h0M793.2 537.3h0M793.5 522.5h0M793.8 541.4h0M794.1 536.8h0M794.4 555.7h0M794.7 525.4h0M795.0 525.6h0M795.3 541.1h0M795.7 552.3h0M796.0 549.6h0M796.3 525.2h0M796.6 545.9h0M796.9 531.5h0M797.2 526.0h0M797.5 548.7h0M797.8 533.2h0M798.1 532.4h0M798.4 540.4h0M798.7 523.3h0M799.1 543.5h0M799.4 531.5h0M799.7 536.6h0M800.0 525.1h0M800.3 552.9h0M800.6 535.0h0M800.9 537.8h0M801.2 540.0h0M801.5 536.2h0M801.8 531.6h0M802.1 540.7h0M802.5 549.7h0M802.8 542.1h0M803.1 550.7h0M803.4 560.5h0M803.7 543.2h0M804.0 535.8h0M804.3 530.4h0M804.6 533.3h0M804.9 538.8h0M805.2 535.0h0M805.5 535.3h0M805.8 530.8h0M806.2 555.5h0M806.5 540.9h0M806.8 543.3h0M807.1 532.3h0M807.4 542.0h0M807.7 527.3h0M808.0 536.8h0M808.3 534.7h0M808.6 537.8h0M808.9 540.5h0M809.2 538.1h0M809.6 536.4h0M809.9 552.4h0M810.2 551.0h0M810.5 537.0h0M810.8 538.4h0M811.1 561.0h0M811.4 553.1h0M811.7 561.2h0M812.0 530.1h0M812.3 542.5h0M812.6 543.0h0M813.0 543.0h0M813.3 532.0h0M813.6 539.5h0M813.9 539.0h0M814.2 539.2h0M814.5 555.5h0M814.8 556.1h0M815.1 540.0h0M815.4 553.4h0M815.7 557.0h0M816.0 541.4h0M816.3 537.1h0M816.7 538.4h0M817.0 534.0h0M817.3 553.4h0M817.6 537.4h0M817.9 538.1h0M818.2 566.0h0M818.5 562.7h0M818.8 555.1h0M819.1 540.2h0M819.4 545.8h0M819.7 546.1h0M820.1 542.7h0M820.4 551.0h0M820.7 544.0h0M821.0 566.9h0M821.3 555.8h0M821.6 543.2h0M821.9 555.1h0M822.2 564.6h0M822.5 541.9h0M822.8 575.6h0M823.1 548.7h0M823.5 538.2h0M823.8 581.7h0M824.1 543.6h0M824.4 544.1h0M824.7 533.3h0M825.0 549.9h0M825.3 530.6h0M825.6 538.4h0M825.9 563.7h0M826.2 554.6h0M826.5 547.2h0M826.8 543.7h0M827.2 538.7h0M827.5 556.3h0M827.8 562.4h0M828.1 549.8h0M828.4 600.7h0M828.7 562.3h0M829.0 555.9h0M829.3 568.5h0M829.6 530.6h0M829.9 542.9h0M830.2 551.8h0M830.6 543.6h0M830.9 551.8h0M831.2 560.1h0M831.5 545.4h0M831.8 572.4h0M832.1 563.5h0M832.4 542.4h0M832.7 550.9h0M833.0 543.2h0M833.3 548.8h0M833.6 575.2h0M834.0 559.6h0M834.3 541.2h0M834.6 556.2h0M834.9 545.4h0M835.2 552.7h0M835.5 574.3h0M835.8 544.0h0M836.1 559.0h0M836.4 593.5h0M836.7 539.9h0M837.0 557.9h0M837.3 563.2h0M837.7 626.8h0M838.0 562.6h0M838.3 552.2h0M838.6 599.2h0M838.9 561.8h0M839.2 627.0h0M839.5 545.4h0M839.8 556.0h0M840.1 546.3h0M840.4 539.5h0M840.7 566.8h0M841.4 571.7h0M841.7 554.3h0M842.0 552.8h0M842.3 562.8h0M842.6 549.7h0M842.9 548.8h0M843.2 565.7h0M843.5 592.4h0M843.8 551.6h0M844.1 556.4h0M844.5 564.2h0M844.8 541.4h0M845.1 599.3h0M845.4 552.7h0M845.7 558.7h0M846.0 559.5h0M846.3 610.5h0M846.6 572.1h0M846.9 555.8h0M847.2 541.9h0M847.5 568.4h0M847.8 587.0h0M848.2 553.2h0M848.5 541.5h0M848.8 557.5h0M849.1 604.1h0M849.4 566.9h0M849.7 551.5h0M850.0 584.2h0M850.3 546.8h0M850.6 570.8h0M850.9 551.6h0M851.2 559.0h0M851.6 549.4h0M851.9 556.6h0M852.2 566.4h0M852.5 554.6h0M852.8 567.7h0M853.1 572.8h0M853.4 552.5h0M853.7 543.1h0M854.0 569.0h0M854.3 571.0h0M854.6 548.6h0M855.0 591.2h0M855.3 585.3h0M855.6 567.5h0M855.9 588.4h0M856.2 586.1h0M856.5 566.5h0M856.8 573.2h0M857.1 597.0h0M857.4 548.6h0M857.7 578.6h0M858.0 592.7h0M858.3 573.6h0M858.7 558.2h0M859.0 561.8h0M859.3 568.9h0M859.6 531.6h0M859.9 565.7h0M860.2 553.4h0M860.5 583.9h0M860.8 596.9h0M861.1 553.9h0M861.4 578.0h0M861.7 605.3h0M862.1 560.1h0M862.4 564.6h0M862.7 563.0h0M863.0 569.7h0M863.3 552.5h0M863.6 576.0h0M863.9 548.0h0M864.2 577.7h0M864.5 553.9h0M864.8 560.8h0M865.1 544.5h0M865.5 572.6h0M865.8 556.8h0M866.1 596.3h0M866.4 606.6h0M866.7 604.6h0M867.0 584.7h0M867.3 563.9h0M867.6 575.3h0M867.9 559.4h0M868.5 561.9h0M868.8 558.7h0M869.2 605.8h0M869.5 563.7h0M869.8 586.8h0M870.1 603.1h0M870.4 565.5h0M870.7 599.7h0M871.0 564.5h0M871.3 575.6h0M871.6 608.5h0M871.9 560.5h0M872.2 591.4h0M872.6 581.5h0M872.9 566.4h0M873.2 559.4h0M873.5 586.5h0M873.8 575.2h0M874.1 599.2h0M874.4 634.6h0M874.7 570.5h0M875.0 567.2h0M875.3 558.7h0M875.6 579.9h0M876.0 552.9h0M876.3 598.5h0M876.6 592.0h0M876.9 573.7h0M877.5 562.0h0M877.8 592.6h0M878.1 587.4h0M878.4 561.8h0M878.7 559.0h0M879.0 557.5h0M879.3 560.5h0M879.7 562.1h0M880.0 598.4h0M880.3 567.9h0M880.9 582.6h0M881.2 617.2h0M881.5 553.2h0M881.8 601.6h0M882.1 562.3h0M882.4 572.7h0M882.7 601.0h0M883.1 567.9h0M883.4 555.5h0M884.0 586.9h0M884.3 573.4h0M884.6 601.5h0M884.9 596.3h0M885.2 585.8h0M885.5 559.6h0M885.8 602.9h0M886.1 588.8h0M886.5 582.7h0M886.8 554.0h0M887.1 584.0h0M887.4 600.4h0M887.7 572.2h0M888.0 599.2h0M888.6 589.2h0M888.9 604.6h0M889.2 598.3h0M889.5 558.7h0M889.8 564.8h0M890.2 568.1h0M890.5 565.9h0M890.8 587.8h0M891.1 582.5h0M891.4 639.3h0M891.7 572.5h0M892.0 566.9h0M892.3 593.6h0M892.6 560.1h0M892.9 613.4h0M893.2 587.3h0M893.6 581.7h0M893.9 568.1h0M894.2 566.4h0M894.5 605.9h0M894.8 570.4h0M895.1 550.8h0M895.4 600.1h0M895.7 572.7h0M896.0 590.6h0M896.3 572.2h0M896.6 592.7h0M897.0 572.3h0M897.6 611.9h0M897.9 591.5h0M898.2 571.7h0M898.5 589.4h0M898.8 561.8h0M899.1 581.9h0M899.4 579.7h0M899.7 580.1h0M900.0 590.3h0M900.3 578.9h0M900.7 573.1h0M901.0 585.9h0M901.3 583.0h0M901.6 599.6h0M901.9 618.4h0M902.2 568.3h0M902.5 589.1h0M902.8 588.4h0M903.1 587.3h0M903.4 573.2h0M903.7 571.4h0M904.1 627.7h0M904.4 592.7h0M904.7 582.1h0M905.0 587.3h0M905.3 601.4h0M905.6 580.6h0M905.9 618.1h0M906.2 605.9h0M906.8 567.4h0M907.1 609.1h0M907.5 633.6h0M907.8 594.0h0M908.1 595.1h0M908.4 576.6h0M908.7 598.2h0M909.0 598.9h0M909.3 591.9h0M909.6 582.2h0M909.9 572.7h0M910.2 591.5h0M910.5 581.8h0M910.8 576.9h0M911.2 580.9h0M911.5 591.1h0M911.8 618.6h0M912.1 608.8h0M912.4 616.2h0M912.7 569.9h0M913.3 591.7h0M913.6 601.9h0M913.9 582.6h0M914.2 600.8h0M914.6 601.1h0M914.9 584.5h0M915.2 602.7h0M915.5 586.3h0M915.8 620.1h0M916.1 600.2h0M916.4 601.6h0M916.7 582.7h0M917.3 595.0h0M917.6 569.3h0M918.0 606.9h0M918.3 601.3h0M918.6 571.7h0M918.9 581.4h0M919.2 636.2h0M919.5 583.9h0M919.8 628.9h0M920.1 588.2h0M920.4 564.9h0M920.7 603.7h0M921.0 581.2h0M921.3 586.5h0M921.7 573.0h0M922.0 611.9h0M922.3 596.5h0M922.6 584.8h0M922.9 606.9h0M923.2 614.8h0M923.5 591.2h0M923.8 583.9h0M924.1 586.9h0M924.4 626.4h0M924.7 593.7h0M925.1 597.2h0M925.4 576.6h0M925.7 622.5h0M926.0 609.5h0M926.3 573.5h0M926.6 607.7h0M926.9 634.3h0M927.2 612.8h0M927.5 614.2h0M927.8 614.6h0M928.1 574.7h0M928.5 624.0h0M929.1 589.3h0M929.4 636.8h0M930.0 590.9h0M930.3 597.5h0M930.6 592.4h0M930.9 588.4h0M931.2 596.5h0M931.8 579.0h0M932.2 594.1h0M932.5 601.4h0M932.8 613.0h0M933.4 578.6h0M934.3 639.7h0M934.9 597.0h0M935.2 570.6h0M935.6 572.6h0M935.9 590.0h0M936.2 592.4h0M937.7 634.9h0M938.3 603.7h0M939.0 626.5h0M939.3 613.2h0M939.6 589.9h0M939.9 591.8h0M940.2 575.1h0M940.5 620.5h0M940.8 583.9h0M941.1 597.8h0M941.4 636.8h0M942.0 627.2h0M942.3 572.7h0M942.7 584.5h0M943.0 588.4h0M943.3 588.1h0M943.9 598.2h0M944.8 599.3h0M945.4 579.4h0M945.7 622.9h0M946.1 612.6h0M946.4 623.1h0M946.7 600.6h0M947.0 607.1h0M947.3 603.0h0M947.6 599.0h0M947.9 606.5h0M948.2 618.4h0M948.5 586.8h0M948.8 600.4h0M949.5 618.4h0M949.8 603.1h0M950.4 592.7h0M950.7 613.9h0M951.0 581.3h0M951.3 582.0h0M951.6 611.6h0M951.9 616.5h0M952.2 621.9h0M952.5 600.3h0M952.8 599.7h0M953.5 604.4h0M953.8 608.6h0M954.1 611.4h0M954.7 608.7h0M955.3 598.7h0M955.6 635.5h0M955.9 567.9h0M956.9 629.0h0M957.2 617.4h0M957.5 601.4h0M958.4 631.3h0M958.7 603.2h0M959.0 615.6h0M959.3 579.7h0M959.6 604.4h0M960.3 611.2h0M960.6 637.1h0M960.9 594.4h0M961.2 624.1h0M961.5 576.9h0M961.8 611.3h0M962.1 613.3h0M962.4 612.9h0M962.7 590.5h0M963.0 612.1h0M963.3 634.9h0M964.0 600.8h0M964.3 586.0h0M964.9 587.7h0M965.2 621.6h0M965.8 599.0h0M966.1 624.5h0M966.4 607.5h0M966.7 596.2h0M967.7 632.5h0M968.3 617.4h0M969.2 606.0h0M969.8 589.2h0M970.8 610.0h0M971.1 631.5h0M971.4 605.3h0M972.3 597.9h0M972.9 608.8h0M973.2 632.3h0M973.5 610.6h0M973.8 618.1h0M974.2 624.6h0M974.8 615.1h0M975.1 633.8h0M975.4 609.9h0M976.0 607.9h0M976.9 596.6h0M977.9 623.9h0M978.2 589.6h0M978.8 635.9h0M979.1 621.0h0M979.4 585.4h0M980.3 618.2h0M980.6 637.6h0M981.0 625.5h0M981.3 615.2h0M982.5 618.3h0M982.8 587.9h0M983.1 636.6h0M983.4 602.3h0M984.0 608.4h0M984.7 607.2h0M985.6 591.9h0M985.9 589.8h0M986.5 604.0h0M987.4 590.9h0M987.7 614.8h0M988.7 610.9h0M989.0 599.5h0M989.6 598.7h0M989.9 612.9h0M990.5 612.9h0M990.8 602.0h0M991.5 620.3h0M991.8 626.1h0M992.1 606.0h0M993.3 607.4h0M993.6 614.4h0M995.2 620.6h0M995.5 611.5h0M995.8 639.2h0M996.1 631.9h0M996.4 614.9h0M996.7 611.2h0M997.0 597.7h0M997.6 616.6h0M997.9 611.0h0M998.2 629.2h0M998.9 626.9h0M999.5 590.1h0M1000.1 608.7h0" stroke="#0000ff" stroke-width="4.8" stroke-linecap="round" fill="none" clip-path="url(#c)"/>
<rect x="299.1" y="258.9" width="635.2" height="348.6" fill="none" stroke="#ff0000" stroke-width="4.3"/>
<line x1="303.0" y1="261.82" x2="934.1" y2="556.1" stroke="#ffc000" stroke-width="3.8"/>
<line x1="303.0" y1="261.88" x2="846.9" y2="608.3" stroke="#92d050" stroke-width="3.7"/>
<path d="M700.2 435C702 468 691 500 658 510.6" fill="none" stroke="#000" stroke-width="4.9"/>
<path d="M698.8 424.6L706.8 437.2L692.8 437.8Z" fill="#000"/>
<path d="M646 514.9L656.3 504.6L661 516.4Z" fill="#000"/>
<line x1="300.1" y1="259.95" x2="934.3" y2="608.0" stroke="#ff0000" stroke-width="3.6"/>
<path d="M187.7 82.4L201.9 75.5V79.8H220V85H201.9V89.4Z" fill="#000"/>
<rect x="104.5" y="13.3" width="895.6" height="625.3000000000001" fill="none" stroke="#000" stroke-width="3"/>
<g fill="#000">
<text transform="translate(40.00 628.30) scale(1.1167 1)" font-size="38.6" letter-spacing="-6" stroke="#000" stroke-width="0.45" clip-path="url(#k0)">10</text>
<text transform="translate(81.12 617.40) scale(1.1545 1)" font-size="25.2" stroke="#000" stroke-width="0.3">0</text>
<text transform="translate(44.99 551.10) scale(1.1198 1)" font-size="38.6" letter-spacing="-6" stroke="#000" stroke-width="0.45" clip-path="url(#k2)">10</text>
<text transform="translate(84.73 539.90) scale(1.0872 1)" font-size="25.2" stroke="#000" stroke-width="0.3" clip-path="url(#k3)">1</text>
<text transform="translate(41.03 472.50) scale(1.1105 1)" font-size="38.6" letter-spacing="-6" stroke="#000" stroke-width="0.45" clip-path="url(#k4)">10</text>
<text transform="translate(81.69 461.50) scale(1.1017 1)" font-size="25.2" stroke="#000" stroke-width="0.3">2</text>
<text transform="translate(39.80 395.10) scale(1.1167 1)" font-size="38.6" letter-spacing="-6" stroke="#000" stroke-width="0.45" clip-path="url(#k6)">10</text>
<text transform="translate(80.88 384.20) scale(1.0813 1)" font-size="25.2" stroke="#000" stroke-width="0.3">3</text>
<text transform="translate(39.78 316.70) scale(1.1229 1)" font-size="38.6" letter-spacing="-6" stroke="#000" stroke-width="0.45" clip-path="url(#k8)">10</text>
<text transform="translate(81.42 305.50) scale(1.0958 1)" font-size="25.2" stroke="#000" stroke-width="0.3">4</text>
<text transform="translate(39.18 240.20) scale(1.1229 1)" font-size="38.6" letter-spacing="-6" stroke="#000" stroke-width="0.45" clip-path="url(#k10)">10</text>
<text transform="translate(80.09 229.30) scale(1.0732 1)" font-size="25.2" stroke="#000" stroke-width="0.3">5</text>
<text transform="translate(39.37 161.50) scale(1.1260 1)" font-size="38.6" letter-spacing="-6" stroke="#000" stroke-width="0.45" clip-path="url(#k12)">10</text>
<text transform="translate(80.59 150.70) scale(1.1037 1)" font-size="25.2" stroke="#000" stroke-width="0.3">6</text>
<text transform="translate(40.99 83.95) scale(1.1198 1)" font-size="38.6" letter-spacing="-6" stroke="#000" stroke-width="0.45" clip-path="url(#k14)">10</text>
<text transform="translate(81.91 72.70) scale(1.0847 1)" font-size="25.2" stroke="#000" stroke-width="0.3">7</text>
<text transform="translate(144.82 678.80) scale(0.9475 1)" font-size="38.6" stroke="#000" stroke-width="0.45"><tspan dy="1.9">−</tspan><tspan dy="-1.9">5</tspan></text>
<text transform="translate(308.56 678.50) scale(1.1293 1)" font-size="38.6" stroke="#000" stroke-width="0.45">0</text>
<text transform="translate(464.34 678.70) scale(1.0642 1)" font-size="38.6" stroke="#000" stroke-width="0.45">5</text>
<text transform="translate(607.73 679.00) scale(1.1105 1)" font-size="38.6" letter-spacing="-6" stroke="#000" stroke-width="0.45" clip-path="url(#k19)">10</text>
<text transform="translate(762.39 675.80) scale(1.0355 1)" font-size="38.6" letter-spacing="-5.3" stroke="#000" stroke-width="0.45" clip-path="url(#k20)">15</text>
<text transform="translate(914.97 676.00) scale(1.0889 1)" font-size="38.6" stroke="#000" stroke-width="0.45">20</text>
<text transform="translate(475.10 718.40) scale(0.9968 1)" font-size="39" font-weight="bold" stroke="#000" stroke-width="0.8">Time <tspan font-size="50" dy="7.4" dx="-3">/</tspan><tspan dy="-7.4" dx="-1">ns</tspan></text>
<text transform="translate(28.60 364.57) rotate(-90) scale(0.9755 1)" font-size="38" font-weight="bold" stroke="#000" stroke-width="0.8">Counts</text>
<text transform="translate(244.04 93.70) scale(1.0162 1)" font-size="31.5" stroke="#000" stroke-width="0.35">Prompt peak</text>
<text transform="translate(245.04 122.70) scale(1.0439 1)" font-size="22.6" stroke="#000" stroke-width="0.4">(used in conventional PET, not used in Ps lifetime imaging)</text>
<text transform="translate(565.57 294.50) scale(0.9842 1)" font-size="29.2" fill="#ff0000" stroke="#ff0000" stroke-width="0.3">Single-exponential slope</text>
<text transform="translate(547.58 324.00) scale(1.0915 1)" font-size="23" fill="#ff0000" stroke="#ff0000" stroke-width="0.4">(used both in conventional PET</text>
<text transform="translate(588.53 353.40) scale(1.0879 1)" font-size="23" fill="#ff0000" stroke="#ff0000" stroke-width="0.4">and Ps lifetime imaging)</text>
<text transform="translate(670.87 419.30) scale(1.0804 1)" font-size="24" stroke="#000" stroke-width="0.25">Lower pO<tspan font-size="17.3" dy="6.2" dx="0.3">2</tspan></text>
<text transform="translate(516.21 521.90) scale(1.0587 1)" font-size="24" stroke="#000" stroke-width="0.25">Higher pO<tspan font-size="17.3" dy="5.6" dx="0.3">2</tspan></text>
</g>
</svg>
</body></html>
